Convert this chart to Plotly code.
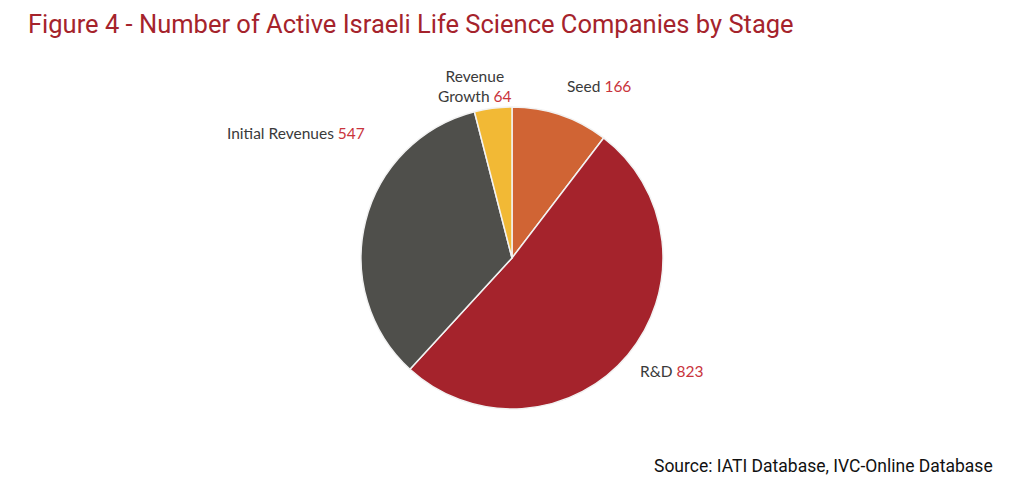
import plotly.graph_objects as go

stages = ["Seed", "R&D", "Initial Revenues", "Revenue Growth"]
counts = [166, 823, 547, 64]
colors = ["#D06434", "#A5232C", "#4F4F4B", "#F2B935"]
label_names = ["Seed", "R&D", "Initial Revenues", "Revenue<br>Growth"]

# page is offset by the 8px body margin
OFF = 8
W, H = 1024 - 2 * OFF, 494 - 2 * OFF

def fx(px):
    return (px - OFF) / W

def fy(py):
    return 1 - (py - OFF) / H

fig = go.Figure()
fig.add_trace(go.Pie(
    labels=stages, values=counts, sort=False, direction="clockwise", rotation=0,
    marker=dict(colors=colors, line=dict(color="#F2F2F2", width=1.5)),
    textinfo="none", hoverinfo="label+value", showlegend=False,
    domain=dict(x=[fx(512 - 151), fx(512 + 151)], y=[fy(409), fy(107)]),
))

pos = [(565, 86, "left"), (638, 371, "left"), (367, 133, "right"), (475, 86, "center")]
for name, val, (px, py, anc) in zip(label_names, counts, pos):
    fig.add_annotation(
        x=fx(px), y=fy(py), xref="paper", yref="paper",
        xanchor=anc, yanchor="middle", align="center", showarrow=False,
        text=f"{name} <span style='color:#C9343C'>{val}</span>",
        font=dict(family="Lato, Open Sans, sans-serif", size=15.5, color="#3A3A3A"),
    )

fig.add_annotation(
    x=fx(26), y=fy(24), xref="paper", yref="paper", xanchor="left", yanchor="middle",
    showarrow=False, text="Figure 4 - Number of Active Israeli Life Science Companies by Stage",
    font=dict(family="Roboto, sans-serif", size=25.5, color="#A5232C"),
)
fig.add_annotation(
    x=fx(995), y=fy(466), xref="paper", yref="paper", xanchor="right", yanchor="middle",
    showarrow=False, text="Source: IATI Database, IVC-Online Database",
    font=dict(family="Roboto, sans-serif", size=17.5, color="#111111"),
)

fig.update_layout(
    width=W, height=H, margin=dict(l=0, r=0, t=0, b=0),
    paper_bgcolor="white", plot_bgcolor="white",
)
fig.write_html("out.html")
